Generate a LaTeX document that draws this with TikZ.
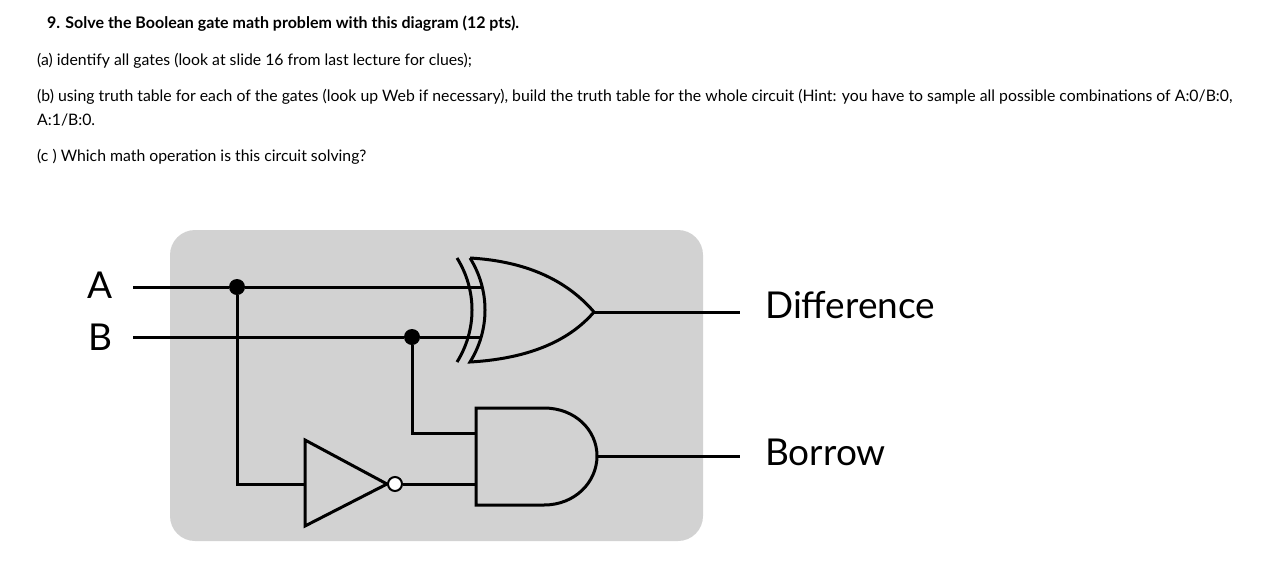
\documentclass[tikz,border=0pt]{standalone}
\usepackage{fontspec}
\setmainfont{Lato}
\begin{document}
\begin{tikzpicture}[x=1pt,y=-1pt,
  txt/.style={anchor=west,inner sep=0,font=\fontsize{15.8}{18}\selectfont},
  big/.style={inner sep=0,font=\fontsize{37}{40}\selectfont},
  wire/.style={line width=3pt},
  gate/.style={line width=3pt,fill=gray!35},
  dotn/.style={circle,fill=black,inner sep=0,minimum size=16pt}]
\useasboundingbox (0,0) rectangle (1287,566);
\node[txt,font=\bfseries\fontsize{16}{18}\selectfont] (t1) at (47,24) {9. Solve the Boolean gate math problem with this diagram (12 pts).};
\node[txt] (t2) at (37,61) {(a) identify all gates (look at slide 16 from last lecture for clues);};
\node[txt] (t3) at (37,97) {(b) using truth table for each of the gates (look up Web if necessary), build the truth table for the whole circuit (Hint: you have to sample all possible combinations of A:0/B:0,};
\node[txt] (t4) at (37,120) {A:1/B:0.};
\node[txt] (t5) at (37,157) {(c ) Which math operation is this circuit solving?};
\fill[gray!35,rounded corners=25pt] (170,230) rectangle (703,541);
\node[big] (A) at (100,285) {A};
\node[big] (B) at (100,337) {B};
% XOR
\draw[gate] (470,258) .. controls (540,262) and (575,290) .. (594,312) .. controls (575,334) and (540,358) .. (470,362) .. controls (490,330) and (490,290) .. (470,258);
\draw[line width=3pt] (457,258) .. controls (477,290) and (477,330) .. (457,362);
\coordinate (xo) at (594,312);
% AND
\draw[gate] (476,408) -- (544,408) .. controls (575,408) and (597,430) .. (597,456) .. controls (597,482) and (575,505) .. (544,505) -- (476,505) -- cycle;
\coordinate (ao) at (597,456);
% NOT
\draw[gate] (305,440) -- (387,484) -- (305,526) -- cycle;
\node[circle,draw,line width=2pt,fill=white,inner sep=0,minimum size=14pt] (bub) at (395,484) {};
% wires
\node[dotn] (d1) at (237,287) {};
\node[dotn] (d2) at (412,337) {};
\draw[wire] (133,287) -- (d1) -- (481,287);
\draw[wire] (133,337) -- (d2) -- (481,337);
\draw[wire] (d1) -- (237,484) -- (305,484);
\draw[wire] (d2) -- (412,433) -- (476,433);
\draw[wire] (bub) -- (476,484);
\node[big,anchor=west] (diff) at (765,305) {Difference};
\node[big,anchor=west] (bor) at (765,452) {Borrow};
\draw[wire] (xo) -- (740,312);
\draw[wire] (ao) -- (740,456);
\end{tikzpicture}
\end{document}
